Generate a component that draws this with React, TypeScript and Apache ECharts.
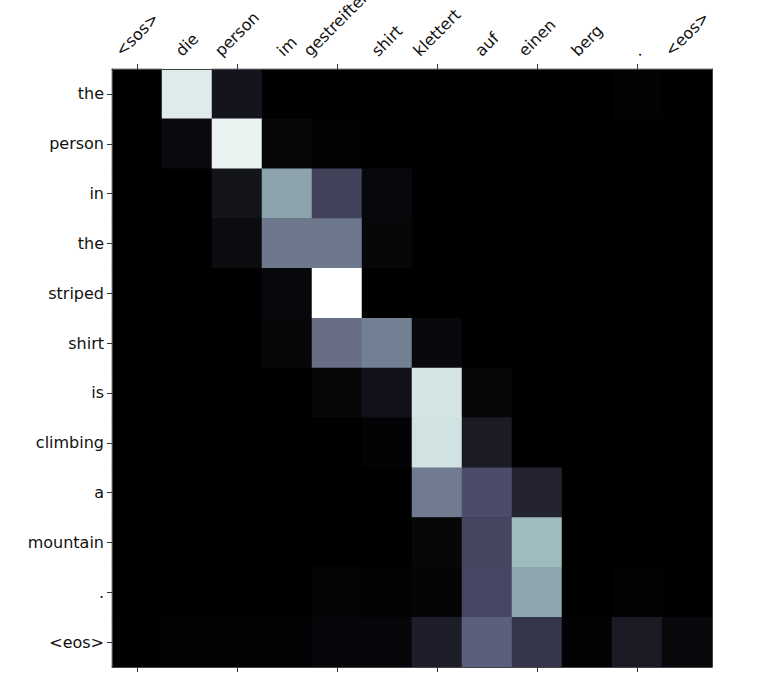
import React, { useEffect, useRef } from "react";
import * as echarts from "echarts";

// Source (German) tokens along the top, target (English) tokens down the side
const sourceTokens = ["<sos>", "die", "person", "im", "gestreiften", "shirt", "klettert", "auf", "einen", "berg", ".", "<eos>"];
const targetTokens = ["the", "person", "in", "the", "striped", "shirt", "is", "climbing", "a", "mountain", ".", "<eos>"];

// Attention weights, one array per target token (columns follow sourceTokens)
const attnThe = [0, 0.91, 0.09, 0, 0, 0, 0, 0, 0, 0, 0.012, 0];
const attnPerson = [0, 0.045, 0.94, 0.03, 0.012, 0, 0, 0, 0, 0, 0, 0];
const attnIn = [0, 0, 0.085, 0.63, 0.29, 0.038, 0, 0, 0, 0, 0, 0];
const attnThe2 = [0, 0, 0.052, 0.49, 0.49, 0.032, 0, 0, 0, 0, 0, 0];
const attnStriped = [0, 0, 0, 0.038, 1.0, 0.005, 0, 0, 0, 0, 0, 0];
const attnShirt = [0, 0, 0, 0.03, 0.46, 0.515, 0.04, 0, 0, 0, 0, 0];
const attnIs = [0, 0, 0, 0, 0.03, 0.08, 0.88, 0.03, 0, 0, 0, 0];
const attnClimbing = [0, 0, 0, 0, 0, 0.015, 0.87, 0.12, 0, 0, 0, 0];
const attnA = [0, 0, 0, 0, 0, 0, 0.5, 0.34, 0.155, 0, 0, 0];
const attnMountain = [0, 0, 0, 0, 0, 0, 0.03, 0.31, 0.71, 0, 0, 0];
const attnPeriod = [0, 0, 0, 0, 0.022, 0.01, 0.025, 0.32, 0.64, 0, 0.01, 0.004];
const attnEos = [0.005, 0.008, 0.008, 0.01, 0.033, 0.033, 0.135, 0.41, 0.24, 0.01, 0.12, 0.04];

const attentionRows = [
  attnThe, attnPerson, attnIn, attnThe2, attnStriped, attnShirt,
  attnIs, attnClimbing, attnA, attnMountain, attnPeriod, attnEos,
];

// matplotlib "bone" colormap
function bone(v: number): string {
  const r = v < 0.746032 ? 0.875 * v : 0.652778 + (v - 0.746032) * 1.367188;
  const g = v < 0.365079 ? 0.875 * v : v < 0.746032 ? 0.319444 + (v - 0.365079) * 1.203125 : 0.777778 + (v - 0.746032) * 0.875;
  const b = v < 0.365079 ? 1.217391 * v : 0.444444 + (v - 0.365079) * 0.875;
  const h = (x: number) => Math.round(Math.max(0, Math.min(1, x)) * 255).toString(16).padStart(2, "0");
  return "#" + h(r) + h(g) + h(b);
}
const boneStops: string[] = [];
for (let i = 0; i <= 64; i++) boneStops.push(bone(i / 64));

const FONT = '"DejaVu Sans", "Liberation Sans", sans-serif';
const FONT_SIZE = 16;

export default function App() {
  const ref = useRef<HTMLDivElement>(null);

  useEffect(() => {
    document.body.style.margin = "0";
    if (!ref.current) return;
    const chart = echarts.init(ref.current, undefined, { renderer: "svg" });

    const data: [number, number, number][] = [];
    attentionRows.forEach((row, y) => row.forEach((v, x) => data.push([x, y, v])));
    let maxV = 0;
    attentionRows.forEach((row) => row.forEach((v) => { if (v > maxV) maxV = v; }));

    const tickStyle = { show: true, alignWithLabel: true, length: 5, inside: false, lineStyle: { color: "#333", width: 1 } };
    const lineStyle = { show: true, lineStyle: { color: "#444", width: 1 } };

    chart.setOption({
      animation: false,
      backgroundColor: "#ffffff",
      grid: { left: 112, right: 53, top: 69, bottom: 20, show: true, backgroundColor: "#000", borderWidth: 0 },
      xAxis: [
        {
          type: "category", data: sourceTokens, position: "top", z: 5,
          axisLine: lineStyle, axisTick: tickStyle, axisLabel: { show: false }, splitLine: { show: false },
        },
        {
          type: "category", data: sourceTokens, position: "bottom", z: 5,
          axisLine: lineStyle, axisTick: tickStyle, axisLabel: { show: false }, splitLine: { show: false },
        },
      ],
      yAxis: [
        {
          type: "category", data: targetTokens, inverse: true, position: "left", z: 5,
          axisLine: lineStyle, axisTick: tickStyle,
          axisLabel: { show: true, fontSize: FONT_SIZE, fontFamily: FONT, color: "#111", margin: 8 },
          splitLine: { show: false },
        },
        {
          type: "category", data: targetTokens, inverse: true, position: "right", z: 5,
          axisLine: lineStyle, axisTick: { show: false }, axisLabel: { show: false }, splitLine: { show: false },
        },
      ],
      visualMap: {
        type: "continuous", show: false, min: 0, max: maxV, dimension: 2, seriesIndex: 0,
        inRange: { color: boneStops },
      },
      series: [
        {
          type: "heatmap", xAxisIndex: 0, yAxisIndex: 0, data,
          itemStyle: { borderWidth: 0 },
          emphasis: { disabled: true },
        },
      ],
    });

    // Top tick labels rotated 45 degrees and centred over their ticks (matplotlib style)
    const canvas = document.createElement("canvas");
    const ctx = canvas.getContext("2d")!;
    ctx.font = `${FONT_SIZE}px ${FONT}`;
    const y0 = chart.convertToPixel({ yAxisIndex: 0 }, 0) as number;
    const y1 = chart.convertToPixel({ yAxisIndex: 0 }, 1) as number;
    const gridTop = y0 - (y1 - y0) / 2;
    const boxBottom = gridTop - 5 - 4;
    const lineH = FONT_SIZE * 1.164;
    const s = Math.SQRT1_2;
    const labels = sourceTokens.map((t, i) => {
      const x = chart.convertToPixel({ xAxisIndex: 0 }, i) as number;
      const w = ctx.measureText(t).width;
      const cy = boxBottom - ((w + lineH) * s) / 2;
      return {
        type: "text",
        x,
        y: cy,
        rotation: Math.PI / 4,
        silent: true,
        style: {
          text: t,
          fontSize: FONT_SIZE,
          fontFamily: FONT,
          fill: "#111",
          align: "center",
          verticalAlign: "middle",
        },
      };
    });
    chart.setOption({ graphic: labels });

    return () => chart.dispose();
  }, []);

  return <div ref={ref} style={{ width: 765, height: 687 }} />;
}
